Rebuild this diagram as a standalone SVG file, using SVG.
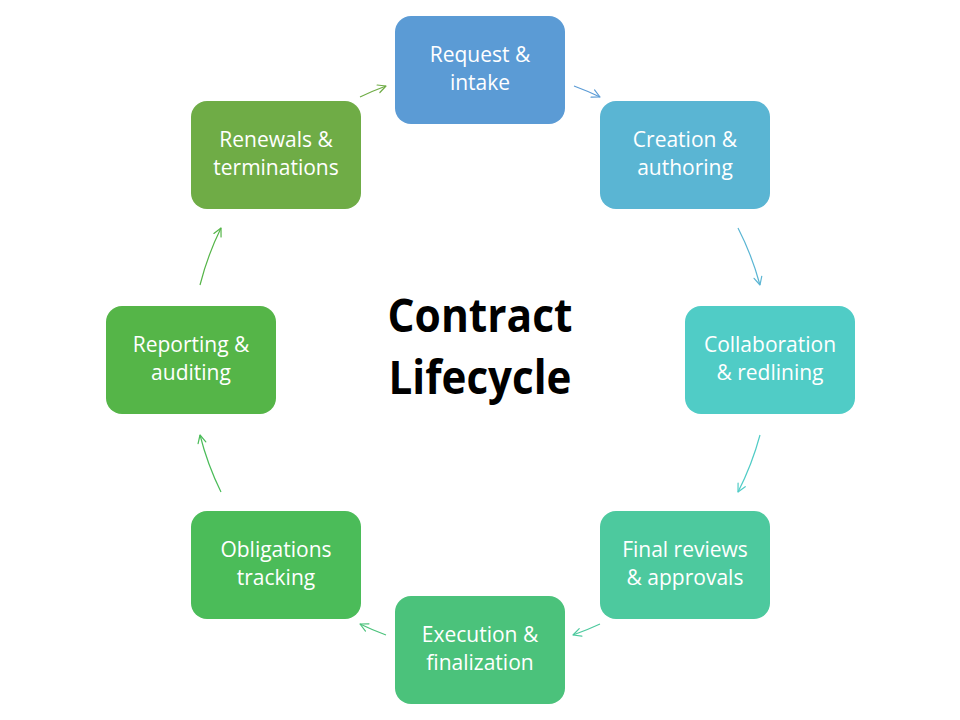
<svg xmlns="http://www.w3.org/2000/svg" width="960" height="720" viewBox="0 0 960 720">
<style>
.box{stroke:none}
.lbl{font-family:"Open Sans","Liberation Sans",sans-serif;font-size:21px;fill:#fff;text-anchor:middle}
.title{font-family:"Open Sans","Liberation Sans",sans-serif;font-weight:bold;font-size:46px;fill:#000;text-anchor:middle}
.arc{fill:none;stroke-width:1.2}
.ah{fill:none;stroke-width:1.2;stroke-linecap:round;stroke-linejoin:round}
</style>
<defs>
<marker id="m1" markerWidth="12" markerHeight="12" refX="9" refY="5" orient="auto" markerUnits="userSpaceOnUse"><path class="ah" d="M1,1 L9,5 L1,9" stroke="#6FAC46"/></marker>
<marker id="m2" markerWidth="12" markerHeight="12" refX="9" refY="5" orient="auto" markerUnits="userSpaceOnUse"><path class="ah" d="M1,1 L9,5 L1,9" stroke="#5B9BD5"/></marker>
<marker id="m3" markerWidth="12" markerHeight="12" refX="9" refY="5" orient="auto" markerUnits="userSpaceOnUse"><path class="ah" d="M1,1 L9,5 L1,9" stroke="#5AB5D3"/></marker>
<marker id="m4" markerWidth="12" markerHeight="12" refX="9" refY="5" orient="auto" markerUnits="userSpaceOnUse"><path class="ah" d="M1,1 L9,5 L1,9" stroke="#50CCC6"/></marker>
<marker id="m5" markerWidth="12" markerHeight="12" refX="9" refY="5" orient="auto" markerUnits="userSpaceOnUse"><path class="ah" d="M1,1 L9,5 L1,9" stroke="#4DC99E"/></marker>
<marker id="m6" markerWidth="12" markerHeight="12" refX="9" refY="5" orient="auto" markerUnits="userSpaceOnUse"><path class="ah" d="M1,1 L9,5 L1,9" stroke="#4BC27B"/></marker>
<marker id="m7" markerWidth="12" markerHeight="12" refX="9" refY="5" orient="auto" markerUnits="userSpaceOnUse"><path class="ah" d="M1,1 L9,5 L1,9" stroke="#4BBC59"/></marker>
<marker id="m8" markerWidth="12" markerHeight="12" refX="9" refY="5" orient="auto" markerUnits="userSpaceOnUse"><path class="ah" d="M1,1 L9,5 L1,9" stroke="#55B548"/></marker>
</defs>
<rect width="960" height="720" fill="#fff"/>
<g id="connectors">
<path class="arc" stroke="#6FAC46" marker-end="url(#m1)" d="M360,97 A290,290 0 0 1 386,86"/>
<path class="arc" stroke="#5B9BD5" marker-end="url(#m2)" d="M574,86 A290,290 0 0 1 600,97"/>
<path class="arc" stroke="#5AB5D3" marker-end="url(#m3)" d="M738,228 A290,290 0 0 1 760,285"/>
<path class="arc" stroke="#50CCC6" marker-end="url(#m4)" d="M760,435 A290,290 0 0 1 738,492"/>
<path class="arc" stroke="#4DC99E" marker-end="url(#m5)" d="M600,624 A290,290 0 0 1 573,635"/>
<path class="arc" stroke="#4BC27B" marker-end="url(#m6)" d="M386,635 A290,290 0 0 1 360,624"/>
<path class="arc" stroke="#4BBC59" marker-end="url(#m7)" d="M221,492 A290,290 0 0 1 200,435"/>
<path class="arc" stroke="#55B548" marker-end="url(#m8)" d="M200,285 A290,290 0 0 1 221,228"/>
</g>
<g id="n1"><rect class="box" x="395" y="16" width="170" height="108" rx="16" fill="#5B9BD5"/><text class="lbl" x="480" y="62">Request &amp;</text><text class="lbl" x="480" y="90">intake</text></g>
<g id="n2"><rect class="box" x="600" y="101" width="170" height="108" rx="16" fill="#5AB5D3"/><text class="lbl" x="685" y="147">Creation &amp;</text><text class="lbl" x="685" y="175">authoring</text></g>
<g id="n3"><rect class="box" x="685" y="306" width="170" height="108" rx="16" fill="#50CCC6"/><text class="lbl" x="770" y="352">Collaboration</text><text class="lbl" x="770" y="380">&amp; redlining</text></g>
<g id="n4"><rect class="box" x="600" y="511" width="170" height="108" rx="16" fill="#4DC99E"/><text class="lbl" x="685" y="557">Final reviews</text><text class="lbl" x="685" y="585">&amp; approvals</text></g>
<g id="n5"><rect class="box" x="395" y="596" width="170" height="108" rx="16" fill="#4BC27B"/><text class="lbl" x="480" y="642">Execution &amp;</text><text class="lbl" x="480" y="670">finalization</text></g>
<g id="n6"><rect class="box" x="191" y="511" width="170" height="108" rx="16" fill="#4BBC59"/><text class="lbl" x="276" y="557">Obligations</text><text class="lbl" x="276" y="585">tracking</text></g>
<g id="n7"><rect class="box" x="106" y="306" width="170" height="108" rx="16" fill="#55B548"/><text class="lbl" x="191" y="352">Reporting &amp;</text><text class="lbl" x="191" y="380">auditing</text></g>
<g id="n8"><rect class="box" x="191" y="101" width="170" height="108" rx="16" fill="#6FAC46"/><text class="lbl" x="276" y="147">Renewals &amp;</text><text class="lbl" x="276" y="175">terminations</text></g>
<g id="title"><text class="title" x="480" y="332" textLength="185" lengthAdjust="spacingAndGlyphs">Contract</text><text class="title" x="480" y="394" textLength="183" lengthAdjust="spacingAndGlyphs">Lifecycle</text></g>
</svg>
